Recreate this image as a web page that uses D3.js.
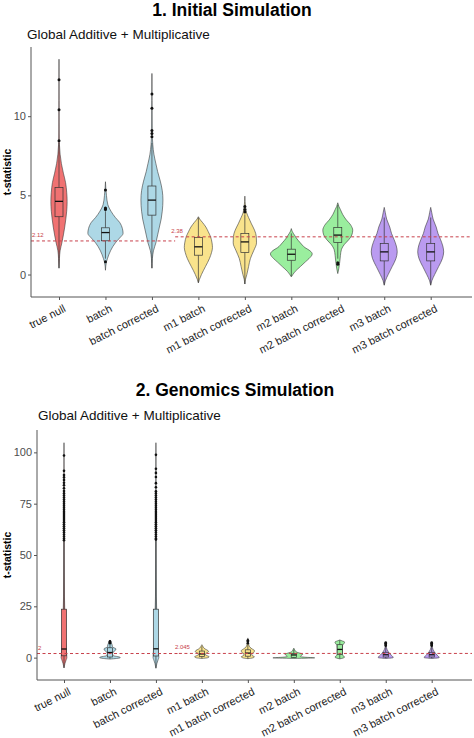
<!DOCTYPE html>
<html>
<head>
<meta charset="utf-8">
<script src="https://cdn.jsdelivr.net/npm/d3@7"></script>
<style>
  body { margin: 0; background: #fff; }
  svg { display: block; font-family: "Liberation Sans", Arial, sans-serif; }
</style>
</head>
<body>
<script>
'use strict';

// categories shared by both panels
const categories = ["true null", "batch", "batch corrected", "m1 batch", "m1 batch corrected",
                    "m2 batch", "m2 batch corrected", "m3 batch", "m3 batch corrected"];
const groupOf = ["null", "batch", "batch", "m1", "m1", "m2", "m2", "m3", "m3"];

// ---- panel 1: Initial Simulation ----
const sim1Ticks = [0, 5, 10];
const sim1Q1 = [3.65, 2.13, 3.75, 1.22, 1.4, 0.9, 2.03, 0.86, 0.86];
const sim1Median = [4.62, 2.65, 4.7, 1.75, 2.06, 1.28, 2.49, 1.43, 1.43];
const sim1Q3 = [5.5, 2.95, 5.59, 2.34, 2.6, 1.6, 2.97, 1.96, 1.96];
const sim1Lo = [0.4, 1.0, 0.4, -0.5, -0.6, -0.1, 1.0, -0.65, -0.65];
const sim1Hi = [8.3, 4.0, 8.3, 3.6, 3.8, 2.6, 4.4, 3.6, 3.6];
const sim1Outliers = [
    [8.45, 10.4, 12.3],
    [0.8, 4.1, 4.15, 4.2, 5.34],
    [8.7, 8.9, 9.1, 10.5, 11.4],
    [],
    [3.95, 4.1, 4.3],
    [],
    [0.65, 0.75],
    [],
    []
];
// violin outlines: [t-statistic, relative density]
const sim1Density = [
    [[0.4,0],[1.0,0.02],[1.5,0.05],[2.0,0.13],[2.5,0.2],[3.0,0.26],[3.5,0.31],[4.0,0.35],[4.6,0.37],[5.2,0.35],[5.8,0.3],[6.4,0.2],[7.0,0.11],[7.6,0.05],[8.2,0.02],[9,0.01],[11,0.005],[13.6,0]],
    [[0.27,0],[0.8,0.045],[1.0,0.09],[1.5,0.23],[2.0,0.45],[2.3,0.64],[2.6,0.8],[2.9,0.77],[3.3,0.64],[3.6,0.45],[4.0,0.25],[4.4,0.11],[5.0,0.045],[5.86,0]],
    [[0.4,0],[1.0,0.02],[1.5,0.07],[2.0,0.18],[2.5,0.26],[3.0,0.34],[3.5,0.42],[4.0,0.47],[4.7,0.5],[5.3,0.47],[5.9,0.38],[6.5,0.26],[7.0,0.18],[7.6,0.09],[8.2,0.04],[9,0.015],[11,0.005],[12.7,0]],
    [[-0.53,0],[-0.3,0.05],[0,0.14],[0.5,0.32],[1.0,0.5],[1.4,0.6],[1.7,0.64],[2.0,0.62],[2.4,0.55],[2.7,0.45],[3.0,0.34],[3.3,0.18],[3.5,0.06],[3.65,0]],
    [[-0.6,0],[-0.3,0.03],[0,0.09],[0.5,0.17],[1.0,0.25],[1.5,0.4],[2.0,0.53],[2.4,0.52],[2.8,0.44],[3.2,0.3],[3.6,0.17],[3.9,0.08],[4.3,0.03],[4.95,0]],
    [[-0.15,0],[0,0.07],[0.2,0.18],[0.5,0.41],[0.8,0.64],[1.0,0.8],[1.3,0.95],[1.5,0.85],[1.7,0.62],[2.0,0.41],[2.3,0.23],[2.5,0.14],[2.7,0.05],[2.9,0]],
    [[0.06,0],[0.4,0.05],[0.8,0.09],[1.2,0.12],[1.6,0.17],[1.9,0.3],[2.2,0.5],[2.5,0.64],[2.8,0.68],[3.1,0.6],[3.5,0.36],[3.8,0.22],[4.1,0.12],[4.3,0.05],[4.53,0]],
    [[-0.68,0],[-0.4,0.05],[0,0.18],[0.5,0.36],[1.0,0.53],[1.43,0.59],[1.8,0.55],[2.2,0.45],[2.6,0.33],[3.0,0.25],[3.5,0.11],[3.9,0.05],[4.24,0]],
    [[-0.68,0],[-0.4,0.05],[0,0.18],[0.5,0.36],[1.0,0.53],[1.43,0.59],[1.8,0.55],[2.2,0.45],[2.6,0.33],[3.0,0.25],[3.5,0.11],[3.9,0.05],[4.24,0]]
];
const sim1Thresholds = [2.12, 2.38];

// ---- panel 2: Genomics Simulation ----
const sim2Ticks = [0, 25, 50, 75, 100];
const sim2Q1 = [0.9, 0.3, 0.8, 0.6, 0.7, 0.1, 1.5, 0.3, 0.3];
const sim2Median = [4.2, 2.5, 4.3, 1.8, 2.2, 1.3, 4.0, 1.4, 1.4];
const sim2Q3 = [23.6, 4.8, 23.6, 3.2, 3.8, 2.0, 6.3, 2.6, 2.6];
const sim2Lo = [-5, -0.6, -5, -0.3, -0.5, -0.2, -0.5, -0.3, -0.3];
const sim2Hi = [57, 6.5, 57, 5.5, 6.5, 4.0, 8.5, 5.5, 5.5];
const sim2Outliers = [
    [57.2, 58, 59, 60, 61, 62, 63, 64, 65, 66, 67, 68, 69, 70, 71, 72, 73, 74, 75, 76, 77, 78, 79, 80, 81.2, 82.5, 84, 85.2, 86.5, 87.8, 89, 91, 98.5],
    [7, 7.5, 8],
    [57.5, 58, 59, 60, 61, 62, 63, 64, 65, 66, 67, 68, 69, 70, 71, 72, 73, 74, 75, 76, 77, 78, 79, 80, 81, 83, 85, 88, 90, 92, 98.8],
    [],
    [7, 7.8, 8.5],
    [],
    [],
    [5.8, 6.2, 6.6, 7.0, 7.4],
    [5.8, 6.2, 6.6, 7.0, 7.4]
];
const sim2Density = [
    [[-5,0],[-3,0.04],[-1,0.1],[0,0.13],[2,0.12],[5,0.1],[10,0.07],[20,0.04],[30,0.02],[50,0.01],[80,0.005],[104.7,0]],
    [[-0.7,0],[-0.4,0.3],[0,0.47],[0.4,0.4],[0.8,0.2],[1.3,0.13],[2.2,0.12],[3.0,0.18],[3.7,0.26],[4.3,0.27],[5.0,0.14],[5.6,0.11],[6.2,0.1],[7.0,0.07],[7.8,0.04],[8.6,0]],
    [[-5.2,0],[-3,0.04],[-1,0.1],[0,0.13],[2,0.12],[5,0.1],[10,0.07],[20,0.04],[30,0.02],[50,0.01],[80,0.005],[104.7,0]],
    [[-0.4,0],[-0.1,0.25],[0.4,0.33],[0.9,0.25],[1.5,0.15],[2.2,0.2],[2.9,0.3],[3.5,0.27],[4.2,0.15],[5,0.07],[5.8,0.03],[6.3,0]],
    [[-0.5,0],[-0.2,0.2],[0.4,0.3],[1.0,0.2],[1.8,0.18],[2.6,0.28],[3.4,0.3],[4.2,0.2],[5.0,0.1],[6.0,0.05],[7.5,0.02],[9.6,0]],
    [[-0.4,0],[-0.1,0.95],[0.2,0.5],[0.6,0.3],[1.1,0.35],[1.6,0.4],[2.1,0.3],[2.6,0.15],[3.2,0.07],[4.0,0.03],[4.6,0]],
    [[-0.6,0],[-0.2,0.15],[0.3,0.22],[0.9,0.15],[1.5,0.12],[3,0.12],[4.5,0.12],[6,0.13],[7,0.2],[7.6,0.22],[8.1,0.12],[8.6,0]],
    [[-0.4,0],[0,0.34],[0.5,0.32],[1.2,0.25],[2,0.18],[3,0.11],[4,0.06],[5,0.03],[5.8,0]],
    [[-0.4,0],[0,0.34],[0.5,0.32],[1.2,0.25],[2,0.18],[3,0.11],[4,0.06],[5,0.03],[5.8,0]]
];
const sim2Thresholds = [2, 2.045];

const palette = {
    "null": "#F07272",
    "batch": "#ADD8E6",
    "m1": "#F9E38C",
    "m2": "#9AEE9E",
    "m3": "#BA9BF0"
};

const svg = d3.select("body").append("svg")
    .attr("width", 474)
    .attr("height", 738);

function drawPanel(p) {
    const g = svg.append("g");
    const y = d3.scaleLinear().domain(p.yDomain).range([p.bottom, p.top]);
    const x = d3.scalePoint().domain(categories).range([p.firstX, p.lastX]);
    const w = d3.scaleLinear().domain([0, 1]).range([0, 22]);

    // title + subtitle
    g.append("text")
        .attr("x", p.titleX).attr("y", p.titleY)
        .attr("text-anchor", "middle")
        .attr("font-size", "17.5px").attr("font-weight", "bold")
        .attr("fill", "#000")
        .text(p.title);
    g.append("text")
        .attr("x", p.subX).attr("y", p.subY)
        .attr("font-size", "13.5px")
        .attr("fill", "#111")
        .text("Global Additive + Multiplicative");

    const area = d3.area()
        .curve(d3.curveMonotoneY)
        .y(d => y(d[0]));

    categories.forEach((c, i) => {
        const cx = x(c);
        const col = palette[groupOf[i]];
        // violin
        g.append("path")
            .datum(p.density[i])
            .attr("d", area.x0(d => cx - w(d[1])).x1(d => cx + w(d[1])))
            .attr("fill", col)
            .attr("stroke", "#3a3a3a")
            .attr("stroke-width", 0.6);
        // whiskers
        g.append("line")
            .attr("x1", cx).attr("x2", cx)
            .attr("y1", y(p.q3[i])).attr("y2", y(p.hi[i]))
            .attr("stroke", "#333").attr("stroke-width", 0.7);
        g.append("line")
            .attr("x1", cx).attr("x2", cx)
            .attr("y1", y(p.q1[i])).attr("y2", y(p.lo[i]))
            .attr("stroke", "#333").attr("stroke-width", 0.7);
        // box
        g.append("rect")
            .attr("x", cx - p.boxHalf).attr("width", p.boxHalf * 2)
            .attr("y", y(p.q3[i])).attr("height", y(p.q1[i]) - y(p.q3[i]))
            .attr("fill", col)
            .attr("stroke", "#333").attr("stroke-width", 0.7);
        g.append("line")
            .attr("x1", cx - p.boxHalf).attr("x2", cx + p.boxHalf)
            .attr("y1", y(p.median[i])).attr("y2", y(p.median[i]))
            .attr("stroke", "#111").attr("stroke-width", 1.3);
        // outliers
        g.selectAll(null)
            .data(p.outliers[i])
            .enter()
            .append("circle")
                .attr("cx", cx)
                .attr("cy", d => y(d))
                .attr("r", p.dotR)
                .attr("fill", "#111");
    });

    // threshold lines (left three groups / the rest), drawn over the violins
    const split = (x(categories[2]) + x(categories[3])) / 2;
    const segs = [[p.left, split], [split, p.right]];
    p.thresholds.forEach((t, i) => {
        g.append("line")
            .attr("x1", segs[i][0]).attr("x2", segs[i][1])
            .attr("y1", y(t)).attr("y2", y(t))
            .attr("stroke", "#C8414B").attr("stroke-width", 1)
            .attr("stroke-dasharray", "3,2.5");
        g.append("text")
            .attr("x", i === 0 ? p.left + 1 : split - 4)
            .attr("y", y(t) - 4)
            .attr("font-size", "6px")
            .attr("fill", "#C8414B")
            .text(t);
    });

    // axes (theme_classic style)
    const yAxis = d3.axisLeft(y).tickValues(p.ticks).tickSize(3).tickPadding(2);
    const ya = g.append("g")
        .attr("transform", "translate(" + p.left + ",0)")
        .call(yAxis);
    ya.select(".domain").remove();
    ya.selectAll(".tick line").attr("stroke", "#555");
    ya.selectAll(".tick text")
        .attr("font-size", "11px")
        .attr("fill", "#4d4d4d")
        .attr("font-family", "Liberation Sans, Arial, sans-serif");

    const xAxis = d3.axisBottom(x).tickSize(3).tickPadding(0);
    const xa = g.append("g")
        .attr("transform", "translate(0," + p.bottom + ")")
        .call(xAxis);
    xa.select(".domain").remove();
    xa.selectAll(".tick line").attr("stroke", "#555");
    xa.selectAll(".tick text")
        .attr("font-size", "11px")
        .attr("fill", "#222")
        .attr("font-family", "Liberation Sans, Arial, sans-serif")
        .attr("text-anchor", "end")
        .attr("dy", null)
        .attr("y", null)
        .attr("transform", "translate(7,14) rotate(-27)");

    g.append("line")
        .attr("x1", p.left).attr("x2", p.left)
        .attr("y1", p.top).attr("y2", p.bottom)
        .attr("stroke", "#555").attr("stroke-width", 1);
    g.append("line")
        .attr("x1", p.left).attr("x2", p.right)
        .attr("y1", p.bottom).attr("y2", p.bottom)
        .attr("stroke", "#555").attr("stroke-width", 1);

    // y axis title
    g.append("text")
        .attr("transform", "translate(11," + ((p.top + p.bottom) / 2) + ") rotate(-90)")
        .attr("text-anchor", "middle")
        .attr("font-size", "10.5px").attr("font-weight", "bold")
        .attr("fill", "#000")
        .text("t-statistic");
}

drawPanel({
    title: "1. Initial Simulation", titleX: 232, titleY: 16,
    subX: 27, subY: 39,
    top: 47, bottom: 297, left: 31, right: 472,
    firstX: 59, lastX: 430.7,
    yDomain: [-1.42, 14.37],
    ticks: sim1Ticks,
    q1: sim1Q1, median: sim1Median, q3: sim1Q3, lo: sim1Lo, hi: sim1Hi,
    outliers: sim1Outliers, density: sim1Density, thresholds: sim1Thresholds,
    boxHalf: 4, dotR: 1.5
});

drawPanel({
    title: "2. Genomics Simulation", titleX: 235, titleY: 396,
    subX: 38, subY: 420,
    top: 430, bottom: 680, left: 37, right: 472,
    firstX: 64, lastX: 431.7,
    yDomain: [-10.9, 110.9],
    ticks: sim2Ticks,
    q1: sim2Q1, median: sim2Median, q3: sim2Q3, lo: sim2Lo, hi: sim2Hi,
    outliers: sim2Outliers, density: sim2Density, thresholds: sim2Thresholds,
    boxHalf: 2.6, dotR: 1.3
});
</script>
</body>
</html>
